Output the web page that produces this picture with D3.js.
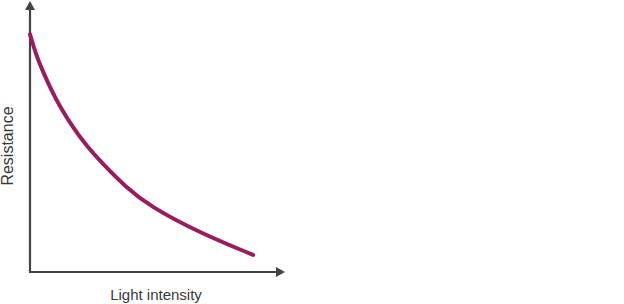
<!DOCTYPE html>
<html>
<head>
<meta charset="utf-8" />
<title>Resistance vs light intensity</title>
<script src="https://cdn.jsdelivr.net/npm/d3@7"></script>
<style>
  body { margin: 0; background: #fff; }
  svg text { font-family: "Liberation Sans", Arial, sans-serif; font-size: 15px; fill: #3a3a3a; }
</style>
</head>
<body>
<div id="chart"></div>
<script>
// curve values (arbitrary units)
var lightIntensity = [0, 0.24, 0.51, 0.82, 1.14, 1.69, 2.24, 2.75, 3.73, 4.71, 6.67, 8.75]
var resistance = [8.9, 8.13, 7.5, 6.85, 6.25, 5.4, 4.7, 4.15, 3.2, 2.45, 1.46, 0.64]
var xLabel = "Light intensity"
var yLabel = "Resistance"

var width = 624, height = 304
var svg = d3.select("#chart").append("svg")
    .attr("width", width)
    .attr("height", height)

var x = d3.scaleLinear().domain([0, 10]).range([30, 285])
var y = d3.scaleLinear().domain([0, 10]).range([272, 5])

var axisColor = "#444"

// axes with arrow heads
svg.append("line")
    .attr("x1", x(0)).attr("y1", y(0) + 1)
    .attr("x2", x(0)).attr("y2", y(10) + 3)
    .attr("stroke", axisColor).attr("stroke-width", 2.2)
svg.append("line")
    .attr("x1", x(0) - 1).attr("y1", y(0))
    .attr("x2", x(10) - 3).attr("y2", y(0))
    .attr("stroke", axisColor).attr("stroke-width", 2.2)

svg.append("path")
    .attr("d", "M" + x(0) + "," + (y(10) - 4) + "l-5,9h10z")
    .attr("fill", axisColor)
svg.append("path")
    .attr("d", "M" + x(10) + "," + y(0) + "l-9,-5v10z")
    .attr("fill", axisColor)

// curve
var line = d3.line()
    .x(function(d, i) { return x(lightIntensity[i]) })
    .y(function(d) { return y(d) })
    .curve(d3.curveBasis)

svg.append("path")
    .datum(resistance)
    .attr("d", line)
    .attr("fill", "none")
    .attr("stroke", "#9b1b5c")
    .attr("stroke-width", 4)
    .attr("stroke-linecap", "round")

// labels
svg.append("text")
    .attr("x", 156).attr("y", 300)
    .attr("text-anchor", "middle")
    .text(xLabel)

svg.append("text")
    .attr("transform", "translate(13,146) rotate(-90)")
    .attr("text-anchor", "middle")
    .style("font-size", "16px")
    .text(yLabel)
</script>
</body>
</html>
